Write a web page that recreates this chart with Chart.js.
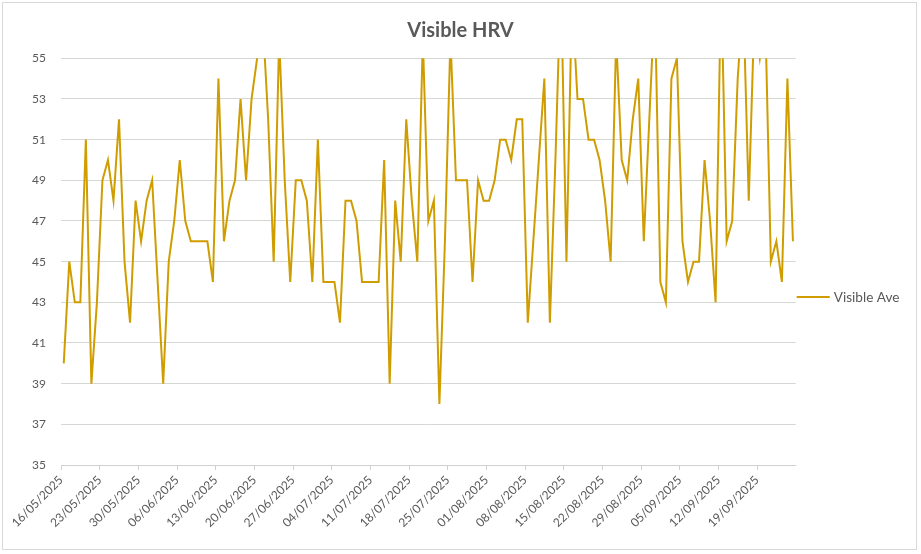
<!DOCTYPE html>
<html>
<head>
<meta charset="utf-8">
<style>
  html, body { margin: 0; padding: 0; background: #ffffff; }
  #wrap { width: 921px; height: 554px; }
</style>
<script src="https://cdn.jsdelivr.net/npm/chart.js@4.4.1/dist/chart.umd.min.js"></script>
</head>
<body>
<div id="wrap"><canvas id="c" width="921" height="554"></canvas></div>
<script>
// ---- data ----
const chartTitle = 'Visible HRV';
const seriesName = 'Visible Ave';
const startDate = [2025, 5, 16]; // first day of the daily series (16/05/2025)

// daily values, 16/05/2025 .. 25/09/2025 (values above 55 run off the top of the axis)
const visibleAve = [
  40, 45, 43, 43, 51, 39, 43, 49, 50, 48,
  52, 45, 42, 48, 46, 48, 49, 44, 39, 45,
  47, 50, 47, 46, 46, 46, 46, 44, 54, 46,
  48, 49, 53, 49, 53, 55, 57, 52, 45, 56,
  49, 44, 49, 49, 48, 44, 51, 44, 44, 44,
  42, 48, 48, 47, 44, 44, 44, 44, 50, 39,
  48, 45, 52, 48, 45, 56, 47, 48, 38, 46,
  56, 49, 49, 49, 44, 49, 48, 48, 49, 51,
  51, 50, 52, 52, 42, 46, 50, 54, 42, 50,
  59, 45, 58, 53, 53, 51, 51, 50, 48, 45,
  56, 50, 49, 52, 54, 46, 52, 58, 44, 43,
  54, 55, 46, 44, 45, 45, 50, 47, 43, 59,
  46, 47, 54, 58, 48, 57, 55, 57, 45, 46,
  44, 54, 46
];

const tickLabels = [
  '16/05/2025', '23/05/2025', '30/05/2025', '06/06/2025', '13/06/2025',
  '20/06/2025', '27/06/2025', '04/07/2025', '11/07/2025', '18/07/2025',
  '25/07/2025', '01/08/2025', '08/08/2025', '15/08/2025', '22/08/2025',
  '29/08/2025', '05/09/2025', '12/09/2025', '19/09/2025'
];
const tickStepDays = 7;
const yMin = 35, yMax = 55, yStep = 2;

// category dates (one per value)
function pad2(n) { return (n < 10 ? '0' : '') + n; }
const categories = visibleAve.map((_, i) => {
  const d = new Date(Date.UTC(startDate[0], startDate[1] - 1, startDate[2] + i));
  return pad2(d.getUTCDate()) + '/' + pad2(d.getUTCMonth() + 1) + '/' + d.getUTCFullYear();
});

// ---- styling ----
const LINE_COLOR = '#CF9D00';
const TEXT_COLOR = '#595959';
const GRID_COLOR = '#D3D8D3';
const AXIS_COLOR = '#D0D0D0';
const FONT = 'Lato, "Open Sans", "DejaVu Sans", sans-serif';

const frame = {
  id: 'frame',
  beforeDraw(chart) {
    const ctx = chart.ctx;
    ctx.save();
    ctx.fillStyle = '#ffffff';
    ctx.fillRect(0, 0, chart.width, chart.height);
    ctx.strokeStyle = '#D9D9D9';
    ctx.lineWidth = 1;
    ctx.strokeRect(2.5, 2.5, 914, 547);
    ctx.restore();
  }
};

const sideLegend = {
  id: 'sideLegend',
  afterDraw(chart) {
    const ctx = chart.ctx;
    const ds = chart.data.datasets[0];
    const x0 = chart.chartArea.right + 1;
    const y = 297;
    ctx.save();
    ctx.strokeStyle = ds.borderColor;
    ctx.lineWidth = ds.borderWidth;
    ctx.beginPath();
    ctx.moveTo(x0, y);
    ctx.lineTo(x0 + 33, y);
    ctx.stroke();
    ctx.fillStyle = TEXT_COLOR;
    ctx.font = '13.6px ' + FONT;
    ctx.textBaseline = 'middle';
    ctx.textAlign = 'left';
    ctx.fillText(ds.label, x0 + 37, y + 0.5);
    ctx.restore();
  }
};

const ctx = document.getElementById('c').getContext('2d');
new Chart(ctx, {
  type: 'line',
  data: {
    datasets: [{
      label: seriesName,
      data: visibleAve.map((v, i) => ({ x: i, y: v, date: categories[i] })),
      borderColor: LINE_COLOR,
      backgroundColor: LINE_COLOR,
      borderWidth: 2,
      pointRadius: 0,
      pointHoverRadius: 0,
      tension: 0,
      fill: false,
      yAxisID: 'y'
    }]
  },
  options: {
    responsive: false,
    animation: false,
    devicePixelRatio: 1,
    layout: { padding: 0 },
    plugins: {
      legend: { display: false },
      tooltip: { enabled: false },
      title: {
        display: true,
        text: chartTitle,
        color: TEXT_COLOR,
        font: { family: FONT, size: 20, weight: 'bold', lineHeight: 1.2 },
        padding: { top: 19, bottom: 15.3 }
      }
    },
    scales: {
      x: {
        type: 'linear',
        min: -0.5,
        max: visibleAve.length - 0.5,
        afterBuildTicks(scale) {
          scale.ticks = tickLabels.map((_, k) => ({ value: k * tickStepDays - 0.5 }));
        },
        afterFit(scale) { scale.height = 89; },
        grid: {
          display: true,
          drawOnChartArea: false,
          drawTicks: true,
          tickLength: 5,
          color: AXIS_COLOR,
          lineWidth: 1
        },
        border: { display: true, color: AXIS_COLOR, width: 1 },
        ticks: {
          autoSkip: false,
          minRotation: 45,
          maxRotation: 45,
          padding: 3,
          color: TEXT_COLOR,
          font: { family: FONT, size: 12 },
          callback: (value, index) => tickLabels[index]
        }
      },
      y: {
        position: 'left',
        min: yMin,
        max: yMax,
        afterFit(scale) { scale.width = 61; },
        ticks: {
          stepSize: yStep,
          padding: 15,
          color: TEXT_COLOR,
          font: { family: FONT, size: 12 }
        },
        grid: { color: GRID_COLOR, drawTicks: false, lineWidth: 1 },
        border: { display: false }
      },
      // empty right-hand band that holds the legend
      legendBand: {
        type: 'linear',
        position: 'right',
        display: true,
        min: yMin,
        max: yMax,
        afterFit(scale) { scale.width = 125.3; },
        ticks: { display: false },
        grid: { display: false, drawOnChartArea: false },
        border: { display: false }
      }
    }
  },
  plugins: [frame, sideLegend]
});
</script>
</body>
</html>
